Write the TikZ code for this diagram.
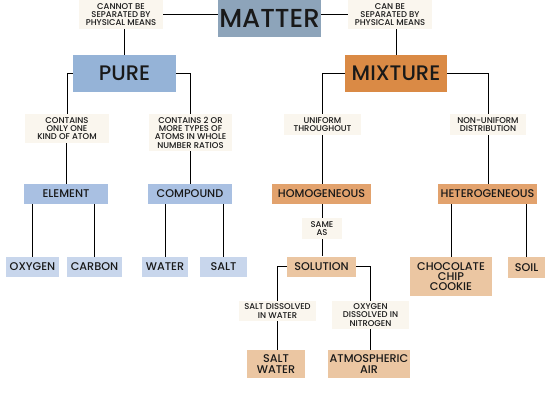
\documentclass[tikz,border=0pt]{standalone}
\usepackage{fontspec}
\setmainfont{Poppins Medium}
\usepackage{tikz}
\usetikzlibrary{calc}

\definecolor{matterblue}{HTML}{8DA4BA}
\definecolor{pureblue}{HTML}{95B3D7}
\definecolor{kindblue}{HTML}{A9C0E2}
\definecolor{itemblue}{HTML}{C8D6EC}
\definecolor{mixorange}{HTML}{DA8A45}
\definecolor{kindorange}{HTML}{E2A26D}
\definecolor{itemorange}{HTML}{EBC6A2}
\definecolor{notecream}{HTML}{FAF6EE}

\tikzset{
  box/.style={inner sep=0pt, align=center, text=black!90},
  note/.style={box, fill=notecream, font=\fontsize{8.4}{8.3}\selectfont},
  head/.style={box, minimum width=103, minimum height=37,
    font=\fontsize{21}{21}\selectfont},
  kind/.style={box, minimum height=20, font=\fontsize{11.2}{10.5}\selectfont},
  item/.style={box, minimum height=20, font=\fontsize{11.2}{10.2}\selectfont},
  link/.style={line width=0.9pt}
}

\begin{document}
\begin{tikzpicture}[x=1pt, y=-1pt]
    \useasboundingbox (0, 0) rectangle (550, 405);

    % top
    \node [head, fill=matterblue, font=\fontsize{26}{26}\selectfont]
      (matter) at (269.5, 18.5) {MATTER};
    \node [note, minimum width=84, minimum height=29] (cannot) at (121, 14.5)
      {CANNOT BE\\SEPARATED BY\\PHYSICAL MEANS};
    \node [note, minimum width=84, minimum height=29] (canbe) at (390, 14.5)
      {CAN BE\\SEPARATED BY\\PHYSICAL MEANS};

    % level 1
    \node [head, fill=pureblue] (pure) at (124.5, 73.5) {PURE};
    \node [head, fill=mixorange, minimum width=102] (mixture) at (396, 73.5)
      {MIXTURE};

    % reasons
    \node [note, minimum width=84, minimum height=29] (onekind) at (67, 128.5)
      {CONTAINS\\ONLY ONE\\KIND OF ATOM};
    \node [note, minimum width=83, minimum height=37] (twomore) at (190.5, 132.5)
      {CONTAINS 2 OR\\MORE TYPES OF\\ATOMS IN WHOLE\\NUMBER RATIOS};
    \node [note, minimum width=77, minimum height=21] (uniform) at (322.5, 124.5)
      {UNIFORM\\THROUGHOUT};
    \node [note, minimum width=76, minimum height=21] (nonuniform) at (488, 124.5)
      {NON-UNIFORM\\DISTRIBUTION};

    % level 2
    \node [kind, fill=kindblue, minimum width=84] (element) at ( 66, 194) {ELEMENT};
    \node [kind, fill=kindblue, minimum width=84] (compound) at (190, 194) {COMPOUND};
    \node [kind, fill=kindorange, minimum width=99] (homog) at (321.5, 194)
      {HOMOGENEOUS};
    \node [kind, fill=kindorange, minimum width=99] (heterog) at (487.5, 194)
      {HETEROGENEOUS};

    % level 3
    \node [item, fill=itemblue, minimum width=53] (oxygen) at ( 32.5, 267) {OXYGEN};
    \node [item, fill=itemblue, minimum width=55] (carbon) at ( 94.5, 267) {CARBON};
    \node [item, fill=itemblue, minimum width=46] (water) at (165, 267) {WATER};
    \node [item, fill=itemblue, minimum width=47] (salt) at (223.5, 267) {SALT};
    \node [note, minimum width=40, minimum height=21] (sameas) at (322, 228.5)
      {SAME\\AS};
    \node [item, fill=itemorange, minimum width=69] (solution) at (321.5, 266.5)
      {SOLUTION};
    \node [item, fill=itemorange, minimum width=82, minimum height=39]
      (cookie) at (451, 276.5) {CHOCOLATE\\CHIP\\COOKIE};
    \node [item, fill=itemorange, minimum width=37, minimum height=21]
      (soil) at (526.5, 267.5) {SOIL};

    % solutions
    \node [note, minimum width=77, minimum height=20] (saltdiss) at (277.5, 311)
      {SALT DISSOLVED\\IN WATER};
    \node [note, minimum width=77, minimum height=28] (oxydiss) at (370.5, 315)
      {OXYGEN\\DISSOLVED IN\\NITROGEN};
    \node [item, fill=itemorange, minimum width=58, minimum height=28]
      (saltwater) at (276, 364) {SALT\\WATER};
    \node [item, fill=itemorange, minimum width=82, minimum height=28]
      (atmos) at (369, 364) {ATMOSPHERIC\\AIR};

    % links
    \draw [link] (cannot.east) -- (cannot.east -| matter.west);
    \draw [link] (matter.east |- canbe.west) -- (canbe.west);
    \draw [link] (cannot.south -| pure.north) -- (pure.north);
    \draw [link] (canbe.south -| mixture.north) -- (mixture.north);

    \draw [link] (pure.west) -| (onekind.north);
    \draw [link] (pure.east) -| (twomore.north);
    \draw [link] (mixture.west) -| (uniform.north);
    \draw [link] (mixture.east) -| (nonuniform.north);

    \draw [link] (element.north |- onekind.south) -- (element.north);
    \draw [link] (twomore.south) -- (twomore.south |- compound.north);
    \draw [link] (uniform.south) -- (uniform.south |- homog.north);
    \draw [link] (nonuniform.south) -- (nonuniform.south |- heterog.north);

    \foreach \a/\b in {element/oxygen, element/carbon, compound/water,
      compound/salt, heterog/cookie, heterog/soil} {
      \draw [link] (\b.north |- \a.south) -- (\b.north);
    }

    \draw [link] (homog.south -| sameas.north) -- (sameas.north);
    \draw [link] (sameas.south) -- (sameas.south |- solution.north);
    \draw [link] (solution.west) -| (saltdiss.north);
    \draw [link] (solution.east) -| (oxydiss.north);
    \draw [link] (saltdiss.south) -- (saltdiss.south |- saltwater.north);
    \draw [link] (oxydiss.south) -- (oxydiss.south |- atmos.north);
  \end{tikzpicture}
\end{document}
